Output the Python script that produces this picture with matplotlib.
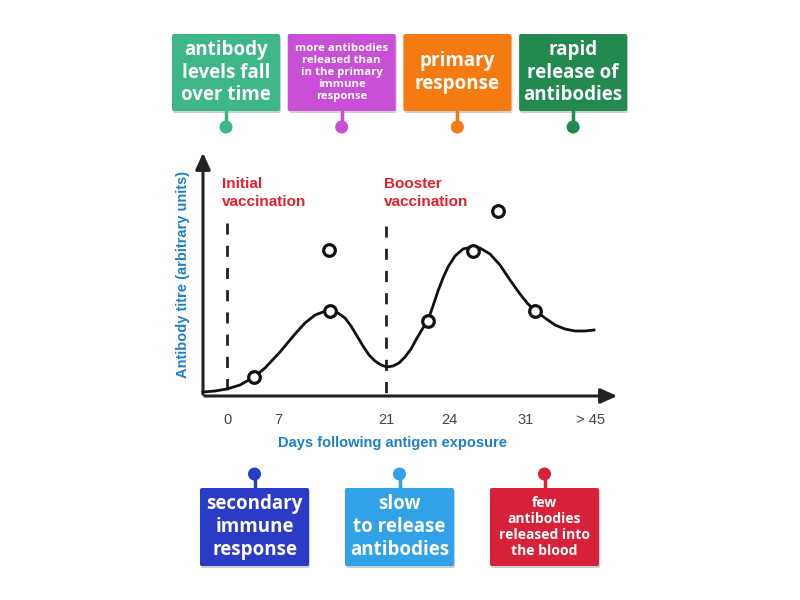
import matplotlib.pyplot as plt
import matplotlib.patches as patches

# --- data (pixel-like diagram units) ---
curve_x = [203, 215, 227, 240, 254, 265, 280, 295, 305, 315, 323, 331, 338, 345, 351,
           357, 363, 369, 375, 381, 387, 393, 399, 405, 411, 417, 423, 428, 433, 438,
           443, 448, 455, 463, 472, 480, 490, 500, 510, 520, 528, 536, 545, 555, 565,
           575, 585, 594]
curve_y = [392, 391, 389, 385, 377, 368, 352, 334, 323, 315, 312, 311, 313, 318, 326,
           336, 346, 355, 361, 365, 367, 366, 363, 357, 349, 338, 328, 320, 306, 291,
           278, 267, 256, 249, 247, 248, 254, 265, 280, 294, 304, 311, 318, 325, 329,
           331, 331, 330]
marker_x = [254, 330, 428, 473, 535, 329, 498]
marker_y = [377, 311, 321, 251, 311, 250, 211]

tick_labels = ['0', '7', '21', '24', '31', '> 45']
tick_pos = [227, 278, 386, 449, 526, 590]

top_labels = ["antibody\nlevels fall\nover time",
              "more antibodies\nreleased than\nin the primary\nimmune\nresponse",
              "primary\nresponse",
              "rapid\nrelease of\nantibodies"]
top_colors = ['#3db688', '#c84fd6', '#f57a10', '#228a4e']
top_sizes = [13.5, 8.2, 13.5, 13.5]

bottom_labels = ["secondary\nimmune\nresponse",
                 "slow\nto release\nantibodies",
                 "few\nantibodies\nreleased into\nthe blood"]
bottom_colors = ['#2a3cc6', '#32a2e8', '#d8223a']
bottom_sizes = [13.5, 13.5, 10]

fig = plt.figure(figsize=(8, 6), dpi=100)
ax = fig.add_axes([0, 0, 1, 1])
ax.set_xlim(0, 800)
ax.set_ylim(600, 0)
ax.axis('off')

BOX_FONT = ['Open Sans', 'DejaVu Sans']
CHART_FONT = ['Liberation Sans', 'DejaVu Sans']


def label_box(x0, y0, w, h, color, text, size, dot_y):
    # shadow + box
    ax.add_patch(patches.FancyBboxPatch((x0 + 1, y0 + 2), w, h, boxstyle="round,pad=0,rounding_size=2",
                                        facecolor='#00000030', edgecolor='none', zorder=2))
    ax.add_patch(patches.FancyBboxPatch((x0, y0), w, h, boxstyle="round,pad=0,rounding_size=2",
                                        facecolor=color, edgecolor='none', zorder=3))
    cx = x0 + w / 2
    edge = y0 + h if dot_y > y0 else y0
    ax.plot([cx, cx], [edge, dot_y], color=color, lw=2.5, zorder=2)
    ax.add_patch(patches.Circle((cx, dot_y), 6.5, facecolor=color, edgecolor='none', zorder=4))
    ax.text(cx, y0 + h / 2, text, ha='center', va='center', fontsize=size, fontweight='bold',
            color='white', family=BOX_FONT, linespacing=1.15 if size < 10 else 1.2, zorder=5)


# top row of labels
for i, (lab, col, sz) in enumerate(zip(top_labels, top_colors, top_sizes)):
    label_box(172 + i * 115.7, 34, 108, 77, col, lab, sz, 127)

# bottom row of labels
for i, (lab, col, sz) in enumerate(zip(bottom_labels, bottom_colors, bottom_sizes)):
    label_box(200 + i * 145, 488, 109, 78, col, lab, sz, 474)

# axes with arrow heads
ax.annotate('', xy=(620, 396), xytext=(202, 396),
            arrowprops=dict(arrowstyle='-|>,head_length=1.0,head_width=0.45', color='#222222', lw=2.2), zorder=3)
ax.annotate('', xy=(203, 150), xytext=(203, 397),
            arrowprops=dict(arrowstyle='-|>,head_length=1.0,head_width=0.45', color='#222222', lw=2.2), zorder=3)

# vaccination lines
ax.plot([227, 227], [223, 396], color='#222222', lw=2, ls=(0, (4, 4)), zorder=3)
ax.plot([386, 386], [226, 396], color='#222222', lw=2, ls=(0, (4, 4)), zorder=3)
ax.text(222, 193, "Initial\nvaccination", ha='left', va='center', fontsize=11, fontweight='bold',
        color='#e6202a', family=CHART_FONT, linespacing=1.35)
ax.text(384, 193, "Booster\nvaccination", ha='left', va='center', fontsize=11, fontweight='bold',
        color='#e6202a', family=CHART_FONT, linespacing=1.35)

# curve and markers
ax.plot(curve_x, curve_y, color='#111111', lw=2, zorder=4, solid_joinstyle='round')
ax.scatter(marker_x, marker_y, s=70, facecolor='white', edgecolor='#111111', linewidths=2.3, zorder=5)

# ticks and axis labels
for p, t in zip(tick_pos, tick_labels):
    ax.text(p, 420, t, ha='center', va='center', fontsize=10.5, color='#444444', family=CHART_FONT)
ax.text(393, 443, "Days following antigen exposure", ha='center', va='center', fontsize=10.5,
        fontweight='bold', color='#1f80c8', family=CHART_FONT)
ax.text(183, 274, "Antibody titre (arbitrary units)", ha='center', va='center', rotation=90,
        fontsize=10.5, fontweight='bold', color='#1f80c8', family=CHART_FONT)

fig.savefig('out.png', dpi=100)
